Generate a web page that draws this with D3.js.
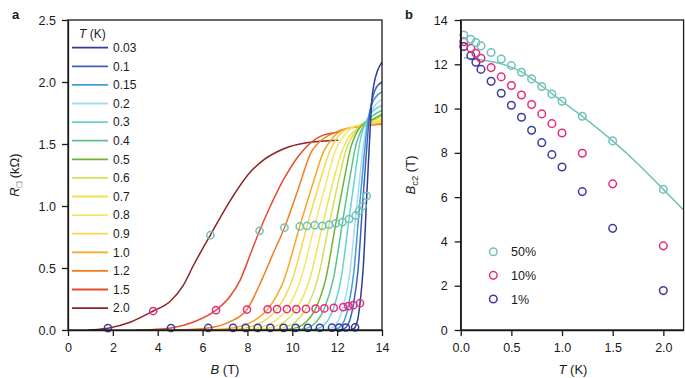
<!DOCTYPE html>
<html><head><meta charset="utf-8">
<script src="https://cdn.jsdelivr.net/npm/d3@7"></script>
<style>body{margin:0;background:#fff} text{font-family:"Liberation Sans",Arial,Helvetica,sans-serif;fill:#1a1a1a}</style>
</head><body><svg id="c" width="685" height="378"></svg>
<script>
// ---------- data ----------
const tempLabels = ["0.03","0.1","0.15","0.2","0.3","0.4","0.5","0.6","0.7","0.8","0.9","1.0","1.2","1.5","2.0"];
const temps = [0.03,0.1,0.15,0.2,0.3,0.4,0.5,0.6,0.7,0.8,0.9,1.0,1.2,1.5,2.0];
const curveColors = ["#2e3d9a","#3f5fbf","#3d9fd6","#a9dbee","#66d4cf","#5ac48d","#6cb52e","#d5e05c","#f3e14f","#f5e66e","#f7d74e","#f6a623","#f07d22","#e64a2e","#8c2424"];

// R(B) curves, [B (T), R (kOhm)]
const curve_T003 = [[12.6,0],[12.69,0.006],[12.8,0.022],[12.92,0.086],[13.02,0.216],[13.17,0.52],[13.32,1.08],[13.44,1.51],[13.55,1.86],[13.65,1.99],[13.8,2.09],[14,2.16]];
const curve_T01  = [[12.09,0],[12.23,0.005],[12.39,0.02],[12.57,0.08],[12.72,0.2],[12.93,0.48],[13.13,1.0],[13.29,1.4],[13.44,1.72],[13.54,1.84],[13.7,1.94],[14,2.0]];
const curve_T015 = [[11.72,0],[11.89,0.005],[12.09,0.019],[12.32,0.077],[12.5,0.19],[12.74,0.46],[12.98,0.96],[13.17,1.34],[13.34,1.65],[13.46,1.77],[13.65,1.86],[14,1.92]];
const curve_T02  = [[11.32,0],[11.52,0.005],[11.77,0.018],[12.05,0.074],[12.27,0.185],[12.55,0.44],[12.83,0.925],[13.05,1.3],[13.25,1.59],[13.39,1.7],[13.61,1.79],[14,1.86]];
const curve_T03  = [[10.67,0],[10.92,0.005],[11.23,0.018],[11.57,0.072],[11.85,0.179],[12.19,0.43],[12.53,0.895],[12.8,1.25],[13.04,1.54],[13.21,1.65],[13.48,1.74],[14,1.81]];
const curve_T04  = [[10.02,0],[10.32,0.005],[10.69,0.017],[11.1,0.07],[11.43,0.174],[11.84,0.42],[12.24,0.87],[12.56,1.22],[12.85,1.5],[13.05,1.6],[13.37,1.69],[14,1.77]];
const curve_T05  = [[9.35,0],[9.7,0.005],[10.15,0.017],[10.64,0.069],[11.04,0.172],[11.49,0.41],[11.94,0.86],[12.3,1.2],[12.62,1.48],[12.84,1.58],[13.2,1.67],[13.6,1.7],[14,1.74]];
const curve_T06  = [[8.71,0],[9.11,0.005],[9.61,0.017],[10.16,0.068],[10.61,0.17],[11.13,0.41],[11.64,0.85],[12.05,1.19],[12.41,1.46],[12.67,1.56],[13.08,1.65],[13.5,1.68],[14,1.72]];
const curve_T07  = [[7.98,0],[8.44,0.005],[9.02,0.017],[9.66,0.067],[10.18,0.168],[10.76,0.4],[11.34,0.84],[11.8,1.18],[12.21,1.44],[12.5,1.55],[12.96,1.63],[13.4,1.66],[14,1.7]];
const curve_T08  = [[7.29,0],[7.81,0.005],[8.46,0.017],[9.18,0.068],[9.76,0.169],[10.38,0.41],[11.0,0.845],[11.5,1.18],[11.93,1.45],[12.24,1.55],[12.74,1.64],[13.3,1.665],[14,1.69]];
const curve_T09  = [[6.66,0],[7.22,0.005],[7.92,0.017],[8.69,0.067],[9.32,0.168],[9.99,0.4],[10.66,0.84],[11.2,1.18],[11.67,1.44],[12.0,1.55],[12.54,1.63],[13.2,1.655],[14,1.68]];
const curve_T10  = [[5.97,0],[6.59,0.005],[7.36,0.017],[8.21,0.067],[8.9,0.167],[9.62,0.4],[10.33,0.835],[10.9,1.17],[11.4,1.44],[11.76,1.54],[12.33,1.62],[13.0,1.645],[14,1.67]];
const curve_T12  = [[4.7,0],[5.4,0.005],[6.25,0.016],[7.2,0.066],[7.98,0.165],[8.63,0.4],[9.08,0.59],[9.65,0.825],[10.27,1.14],[10.86,1.44],[11.23,1.52],[12.0,1.6],[13.0,1.64],[14,1.66]];
const curve_T15  = [[3.0,0],[3.8,0.005],[4.59,0.016],[5.6,0.065],[6.6,0.16],[7.22,0.27],[7.67,0.4],[8.11,0.6],[8.54,0.8],[9.0,0.99],[9.6,1.21],[10.49,1.45],[11.23,1.56],[12.05,1.594]];
const curve_T20  = [[0.9,0],[1.3,0.005],[1.78,0.015],[2.8,0.065],[3.8,0.153],[4.55,0.23],[5.14,0.36],[5.59,0.52],[6.35,0.766],[7.22,1.04],[8.11,1.27],[8.71,1.37],[9.6,1.46],[10.64,1.51],[12.05,1.53]];
const curvesA = [curve_T003,curve_T01,curve_T015,curve_T02,curve_T03,curve_T04,curve_T05,curve_T06,curve_T07,curve_T08,curve_T09,curve_T10,curve_T12,curve_T15,curve_T20];

// normal-state resistance per curve (kOhm)
const rNormal = [2.16,2.0,1.92,1.85,1.79,1.74,1.72,1.70,1.68,1.69,1.68,1.67,1.65,1.60,1.53];
// Bc2 at 50%, 10%, 1% criteria (T), same temperature order
const bc2_50 = [13.32,13.13,12.98,12.83,12.53,12.24,11.94,11.64,11.34,11.0,10.66,10.33,9.65,8.54,6.35];
const bc2_10 = [13.02,12.72,12.5,12.27,11.85,11.43,11.04,10.61,10.18,9.76,9.32,8.9,7.98,6.6,3.8];
const bc2_1  = [12.8,12.39,12.09,11.77,11.23,10.69,10.15,9.61,9.02,8.46,7.92,7.36,6.25,4.59,1.78];
const criteria = ["50%","10%","1%"];
const criteriaFrac = [0.5,0.1,0.01];
const criteriaColors = ["#70c3b9","#e62b80","#3b3c9e"];
// fit line through 50% data
const fitT = [0.03,0.2,0.4,0.6,0.8,1.0,1.2,1.5,1.75,2.0,2.2];
const fitB = [12.3,12.2,12.02,11.66,11.02,10.33,9.65,8.54,7.5,6.35,5.42];

const xTicksA = [0,2,4,6,8,10,12,14];
const yTicksA = [0,0.5,1.0,1.5,2.0,2.5];
const xTicksB = [0,0.5,1.0,1.5,2.0];
const yTicksB = [0,2,4,6,8,10,12,14];

// ---------- drawing ----------
const svg = d3.select("#c");
const FS = 12.5;

const xA = d3.scaleLinear().domain([0,14]).range([68,382]);
const yA = d3.scaleLinear().domain([0,2.5]).range([330,20]);
const xB = d3.scaleLinear().domain([0,2.2]).range([460.7,683.6]);
const yB = d3.scaleLinear().domain([0,14]).range([330,20]);

function styleAxis(g){
  g.selectAll("path,line").attr("stroke","#1a1a1a").attr("stroke-width",1.3);
  g.selectAll("text").style("font-size",FS+"px").attr("fill","#1a1a1a");
}

// panel a curves
const line = d3.line().x(d=>xA(d[0])).y(d=>yA(d[1])).curve(d3.curveMonotoneX);
const gA = svg.append("g");
for (let i = curvesA.length-1; i >= 0; i--) {
  gA.append("path").attr("d", line(curvesA[i])).attr("fill","none")
    .attr("stroke", curveColors[i]).attr("stroke-width",1.5);
}
// panel a markers
const bcSets = [bc2_50, bc2_10, bc2_1];
bcSets.forEach((bs,k)=>{
  gA.selectAll(null).data(bs).enter().append("circle")
    .attr("cx",(d)=>xA(d)).attr("cy",(d,i)=>yA(criteriaFrac[k]*rNormal[i]))
    .attr("r",3.6).attr("fill","none").attr("stroke",criteriaColors[k]).attr("stroke-width",1.5);
});

// frame a
svg.append("rect").attr("x",xA(0)).attr("y",yA(2.5)).attr("width",xA(14)-xA(0)).attr("height",yA(0)-yA(2.5))
  .attr("fill","none").attr("stroke","#1a1a1a").attr("stroke-width",1.3);
svg.append("g").attr("transform",`translate(0,${yA(0)})`)
  .call(d3.axisBottom(xA).tickValues(xTicksA).tickFormat(d3.format("d")).tickSize(6).tickPadding(7).tickSizeOuter(0)).call(styleAxis);
svg.append("g").attr("transform",`translate(${xA(0)},0)`)
  .call(d3.axisLeft(yA).tickValues(yTicksA).tickFormat(d3.format(".1f")).tickSize(6).tickPadding(6).tickSizeOuter(0)).call(styleAxis);

// legend a
const legA = svg.append("g");
const lt = legA.append("text").attr("x",79).attr("y",37.5).style("font-size","12px");
lt.append("tspan").style("font-style","italic").text("T");
lt.append("tspan").text(" (K)");
tempLabels.forEach((t,i)=>{
  const y = 47.7 + i*18.6;
  legA.append("line").attr("x1",72).attr("x2",108).attr("y1",y).attr("y2",y)
    .attr("stroke",curveColors[i]).attr("stroke-width",1.8);
  legA.append("text").attr("x",113).attr("y",y+4.3).style("font-size","12px").text(t);
});

// axis titles a
const ytA = svg.append("text").attr("transform","translate(19,175) rotate(-90)").attr("text-anchor","middle").style("font-size","13px");
ytA.append("tspan").style("font-style","italic").text("R");
ytA.append("tspan").attr("dy",3).style("font-size","9px").text("□");
ytA.append("tspan").attr("dy",-3).text(" (kΩ)");
const xtA = svg.append("text").attr("x",225).attr("y",374).attr("text-anchor","middle").style("font-size","13px");
xtA.append("tspan").style("font-style","italic").text("B");
xtA.append("tspan").text(" (T)");

// panel b
const gB = svg.append("g");
const fitLine = d3.line().x(d=>xB(d[0])).y(d=>yB(d[1])).curve(d3.curveMonotoneX);
gB.append("path").attr("d",fitLine(fitT.map((t,i)=>[t,fitB[i]]))).attr("fill","none")
  .attr("stroke",criteriaColors[0]).attr("stroke-width",1.5);
[2,1,0].forEach(k=>{
  gB.selectAll(null).data(bcSets[k]).enter().append("circle")
    .attr("cx",(d,i)=>xB(temps[i])).attr("cy",d=>yB(d))
    .attr("r",3.8).attr("fill","none").attr("stroke",criteriaColors[k]).attr("stroke-width",1.5);
});
svg.append("rect").attr("x",xB(0)).attr("y",yB(14)).attr("width",xB(2.2)-xB(0)).attr("height",yB(0)-yB(14))
  .attr("fill","none").attr("stroke","#1a1a1a").attr("stroke-width",1.3);
svg.append("g").attr("transform",`translate(0,${yB(0)})`)
  .call(d3.axisBottom(xB).tickValues(xTicksB).tickFormat(d3.format(".1f")).tickSize(6).tickPadding(7).tickSizeOuter(0)).call(styleAxis);
svg.append("g").attr("transform",`translate(${xB(0)},0)`)
  .call(d3.axisLeft(yB).tickValues(yTicksB).tickFormat(d3.format("d")).tickSize(6).tickPadding(7).tickSizeOuter(0)).call(styleAxis);

// legend b
criteria.forEach((c,k)=>{
  const y = 251.7 + k*23.65;
  svg.append("circle").attr("cx",493.3).attr("cy",y).attr("r",3.8).attr("fill","none")
    .attr("stroke",criteriaColors[k]).attr("stroke-width",1.5);
  svg.append("text").attr("x",511).attr("y",y+4.5).style("font-size","12.5px").text(c);
});

// axis titles b
const ytB = svg.append("text").attr("transform","translate(415,175) rotate(-90)").attr("text-anchor","middle").style("font-size","13px");
ytB.append("tspan").style("font-style","italic").text("B");
ytB.append("tspan").attr("dy",3).style("font-size","9.5px").text("c2");
ytB.append("tspan").attr("dy",-3).text(" (T)");
const xtB = svg.append("text").attr("x",573).attr("y",374).attr("text-anchor","middle").style("font-size","13px");
xtB.append("tspan").style("font-style","italic").text("T");
xtB.append("tspan").text(" (K)");

// panel letters
svg.append("text").attr("x",12).attr("y",19).style("font-size","13px").style("font-weight","bold").text("a");
svg.append("text").attr("x",405).attr("y",19).style("font-size","13px").style("font-weight","bold").text("b");
</script></body></html>
